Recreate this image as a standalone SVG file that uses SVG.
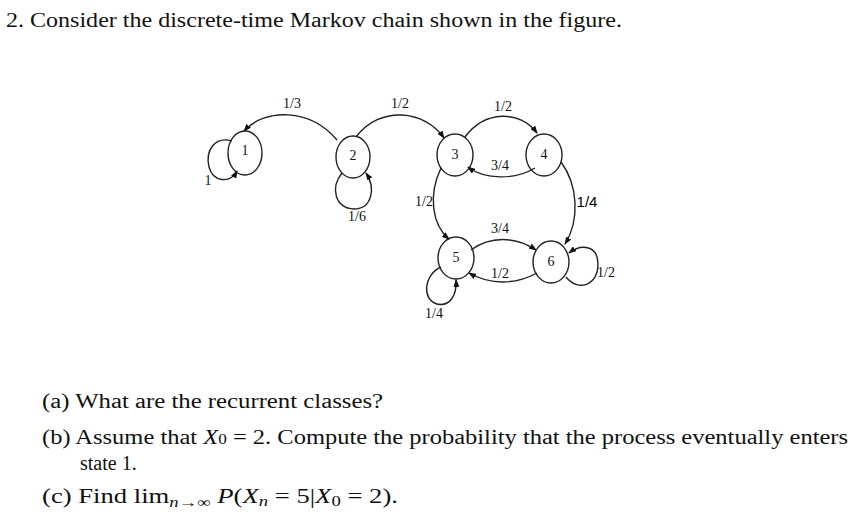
<svg xmlns="http://www.w3.org/2000/svg" width="853" height="517" viewBox="0 0 853 517">
<defs><marker id="a" markerWidth="8" markerHeight="6" refX="7" refY="3" orient="auto" markerUnits="userSpaceOnUse"><path d="M0,0 L8,3 L0,6 Z" fill="#111"/></marker></defs>
<style>
.n{fill:none;stroke:#222;stroke-width:1.4}
.e{fill:none;stroke:#222;stroke-width:1.4;marker-end:url(#a)}
.l{font-family:"Liberation Serif",serif;font-size:14px;fill:#111;text-anchor:middle}
.t{font-family:"Liberation Serif",serif;font-size:20px;fill:#111}
</style>
<rect width="853" height="517" fill="#fff"/>
<text class="t" x="6" y="27" textLength="616" lengthAdjust="spacingAndGlyphs">2. Consider the discrete-time Markov chain shown in the figure.</text>
<g id="connectors">
<path class="e" d="M232,141 C215,136 205,150 209,167 C213,182 230,184 237,171"/>
<path class="e" d="M337,140 C310,108 265,108 244,131"/>
<path class="e" d="M342,173 C330,188 335,208 354,209 C372,209 376,188 366,173"/>
<path class="e" d="M356,137 C380,105 425,110 444,138"/>
<path class="e" d="M465,137 C485,110 520,110 537,133"/>
<path class="e" d="M535,168 C515,180 485,180 468,167"/>
<path class="e" d="M441,168 C428,195 432,225 449,239"/>
<path class="e" d="M561,162 C578,185 580,220 565,244"/>
<path class="e" d="M471,250 C490,236 515,236 536,250"/>
<path class="e" d="M537,273 C515,285 490,285 469,273"/>
<path class="e" d="M566,277 C578,292 598,286 598,264 C598,246 582,243 569,253"/>
<path class="e" d="M441,267 C423,275 422,300 437,304 C450,307 457,295 456,280"/>
</g>
<g id="n1"><ellipse class="n" cx="245" cy="153" rx="17" ry="22"/><text class="l" x="245" y="155">1</text></g>
<g id="n2"><ellipse class="n" cx="353" cy="157" rx="17" ry="21"/><text class="l" x="353" y="160">2</text></g>
<g id="n3"><ellipse class="n" cx="455" cy="155" rx="18" ry="21"/><text class="l" x="455" y="159">3</text></g>
<g id="n4"><ellipse class="n" cx="544" cy="155" rx="18" ry="21"/><text class="l" x="544" y="159">4</text></g>
<g id="n5"><ellipse class="n" cx="456" cy="258" rx="18" ry="21"/><text class="l" x="456" y="262">5</text></g>
<g id="n6"><ellipse class="n" cx="551" cy="262" rx="18" ry="21"/><text class="l" x="551" y="266">6</text></g>
<g id="labels">
<text class="l" x="292" y="108">1/3</text>
<text class="l" x="400" y="108">1/2</text>
<text class="l" x="503" y="111">1/2</text>
<text class="l" x="500" y="170">3/4</text>
<text class="l" x="208" y="185">1</text>
<text class="l" x="357" y="221">1/6</text>
<text class="l" x="424" y="206">1/2</text>
<text x="587" y="207" style="font-family:'Liberation Sans',sans-serif;font-size:15px;text-anchor:middle">1/4</text>
<text class="l" x="500" y="233">3/4</text>
<text class="l" x="500" y="278">1/2</text>
<text class="l" x="606" y="277">1/2</text>
<text class="l" x="434" y="318">1/4</text>
</g>
<text class="t" x="42" y="408" textLength="341" lengthAdjust="spacingAndGlyphs">(a)  What are the recurrent classes?</text>
<text class="t" x="42" y="444" textLength="806" lengthAdjust="spacingAndGlyphs">(b)  Assume that <tspan font-style="italic">X</tspan><tspan font-size="14">0</tspan> = 2. Compute the probability that the process eventually enters</text>
<text class="t" x="80" y="470">state 1.</text>
<text class="t" x="42" y="503" textLength="356" lengthAdjust="spacingAndGlyphs">(c)  Find lim<tspan font-size="14" font-style="italic" dy="4">n</tspan><tspan font-size="14">→∞</tspan> <tspan dy="-4" font-style="italic">P</tspan>(<tspan font-style="italic">X</tspan><tspan font-size="14" font-style="italic" dy="3">n</tspan><tspan dy="-3"> = 5|</tspan><tspan font-style="italic">X</tspan><tspan font-size="14" dy="3">0</tspan><tspan dy="-3"> = 2).</tspan></text>
</svg>
